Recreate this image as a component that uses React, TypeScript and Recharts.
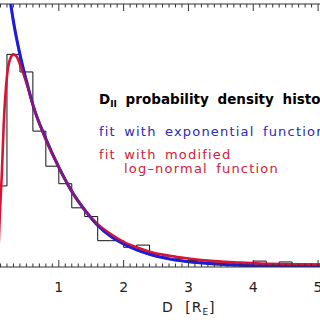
import React from 'react';
import { LineChart, Line, XAxis, YAxis, ReferenceLine } from 'recharts';

// histogram of D, bins of 0.2 R_E (left edges), probability density
const binEdges = [0, 0.2, 0.4, 0.6, 0.8, 1.0, 1.2, 1.4, 1.6, 1.8, 2.0, 2.2, 2.4, 2.6, 2.8, 3.0, 3.2, 3.4, 3.6, 3.8, 4.0, 4.2, 4.4, 4.6, 4.8, 5.0, 5.2];
const binDensity = [0.37, 0.97, 0.89, 0.62, 0.46, 0.38, 0.27, 0.23, 0.12, 0.12, 0.09, 0.1, 0.06, 0.05, 0.04, 0.03, 0.022, 0.018, 0.018, 0.014, 0.027, 0.014, 0.023, 0.014, 0.014, 0.014, 0.014];

// exponential fit
const expD = [0.2, 0.3, 0.4, 0.5, 0.6, 0.8, 1.0, 1.2, 1.4, 1.6, 1.8, 2.0, 2.2, 2.4, 2.6, 2.8, 3.0, 3.4, 3.8, 4.2, 4.6, 5.0, 5.4];
const expVal = [1.32, 1.12, 0.97, 0.85, 0.74, 0.585, 0.455, 0.345, 0.26, 0.19, 0.14, 0.105, 0.078, 0.058, 0.043, 0.032, 0.024, 0.014, 0.008, 0.005, 0.003, 0.002, 0.001];

// modified log-normal fit
const logD = [0.06, 0.09, 0.12, 0.15, 0.2, 0.25, 0.3, 0.35, 0.4, 0.5, 0.6, 0.8, 1.0, 1.2, 1.4, 1.6, 1.8, 2.0, 2.2, 2.4, 2.6, 2.8, 3.0, 3.4, 3.8, 4.2, 4.6, 5.0, 5.4];
const logVal = [0.0, 0.24, 0.42, 0.65, 0.87, 0.95, 0.97, 0.96, 0.925, 0.84, 0.74, 0.58, 0.455, 0.345, 0.26, 0.195, 0.15, 0.115, 0.09, 0.07, 0.057, 0.047, 0.039, 0.027, 0.02, 0.015, 0.012, 0.01, 0.008];

const majorTicks = [1, 2, 3, 4, 5];
const minorTicks = Array.from({ length: 55 }, (_, i) => i / 10);

const histData = binEdges.map((d, i) => ({ d, v: binDensity[i] }));
const expData = expD.map((d, i) => ({ d, v: expVal[i] }));
const logData = logD.map((d, i) => ({ d, v: logVal[i] }));

const AXIS = '#333';
const BLUE = '#1c1cdc';
const RED = '#d81434';
const FONT = '"DejaVu Sans", sans-serif';
const X_DOMAIN: [number, number] = [0, 5.4];
const Y_TOP = 1.2;

const isMajor = (v: number) => majorTicks.some((m) => Math.abs(m - v) < 1e-6);

// ticks point up into the plot, labels hang below the axis
const FrameTick = (props: any) => {
  const { x, y, payload } = props;
  const major = isMajor(payload.value);
  return (
    <g>
      <line x1={x} x2={x} y1={y} y2={y - (major ? 7 : 3.5)} stroke={AXIS} strokeWidth={1} />
      {major && (
        <text x={x} y={y + 25} textAnchor="middle" fontFamily={FONT} fontSize={14} fill="#222">
          {Math.round(payload.value)}
        </text>
      )}
    </g>
  );
};

export default function App() {
  return (
    <div style={{ position: 'absolute', left: 0, top: 0, width: 320, height: 320, overflow: 'hidden', background: '#fff' }}>
      <div style={{ position: 'absolute', left: -6, top: 0 }}>
        <LineChart width={360} height={320} margin={{ top: 4, right: 10, bottom: 23, left: 0 }}>
          <XAxis
            type="number"
            dataKey="d"
            domain={X_DOMAIN}
            allowDataOverflow
            ticks={minorTicks}
            interval={0}
            tick={<FrameTick />}
            tickLine={false}
            tickSize={0}
            tickMargin={0}
            height={30}
            axisLine={{ stroke: AXIS, strokeWidth: 1.2 }}
          />
          <YAxis hide type="number" domain={[0, Y_TOP]} allowDataOverflow />
          {/* top frame line with inward ticks */}
          <ReferenceLine y={Y_TOP} stroke={AXIS} strokeWidth={1.2} ifOverflow="visible" />
          {minorTicks.map((d) => (
            <ReferenceLine
              key={d}
              segment={[
                { x: d, y: Y_TOP },
                { x: d, y: Y_TOP - (isMajor(d) ? 0.032 : 0.016) },
              ]}
              stroke={AXIS}
              strokeWidth={1}
              ifOverflow="visible"
            />
          ))}
          <Line
            data={histData}
            dataKey="v"
            type="stepAfter"
            stroke="#111"
            strokeWidth={1}
            dot={false}
            isAnimationActive={false}
          />
          <Line
            data={expData}
            dataKey="v"
            type="monotone"
            stroke={BLUE}
            strokeWidth={3}
            dot={false}
            isAnimationActive={false}
          />
          <Line
            data={logData}
            dataKey="v"
            type="monotone"
            stroke={RED}
            strokeWidth={2.6}
            dot={false}
            isAnimationActive={false}
          />
          {/* translucent pass of the exponential fit so the overlap reads purple */}
          <Line
            data={expData}
            dataKey="v"
            type="monotone"
            stroke={BLUE}
            strokeOpacity={0.45}
            strokeWidth={2.6}
            dot={false}
            activeDot={false}
            isAnimationActive={false}
          />
        </LineChart>
      </div>
      <svg width={320} height={320} style={{ position: 'absolute', left: 0, top: 0, pointerEvents: 'none' }}>
        <text x={99} y={104} fontFamily={FONT} fontSize={13.5} fontWeight="bold" fill="#000" wordSpacing={4}>
          D<tspan fontSize={9} dy={3}>II</tspan>
          <tspan dy={-3}> probability density histogram</tspan>
        </text>
        <text x={99} y={136} fontFamily={FONT} fontSize={13} fill="#2a2ab4" letterSpacing={1.2} wordSpacing={3}>
          fit with exponential function
        </text>
        <text x={99} y={159} fontFamily={FONT} fontSize={13} fill="#d0203a" letterSpacing={1.2} wordSpacing={3}>
          fit with modified
        </text>
        <text x={124} y={173} fontFamily={FONT} fontSize={13} fill="#d0203a" letterSpacing={1.2} wordSpacing={3}>
          log–normal function
        </text>
        <text x={162} y={312} fontFamily={FONT} fontSize={14} fill="#222" letterSpacing={1} wordSpacing={6}>
          D [R<tspan fontSize={9} dy={3}>E</tspan>
          <tspan dy={-3}>]</tspan>
        </text>
      </svg>
    </div>
  );
}
